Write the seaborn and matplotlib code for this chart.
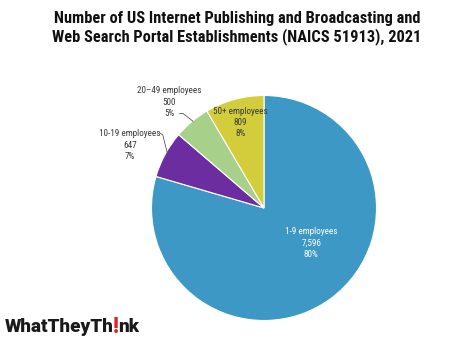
import matplotlib
matplotlib.use("Agg")
import matplotlib.pyplot as plt
import seaborn as sns

sns.set_theme(style="white")
plt.rcParams['font.family'] = ['Roboto Condensed', 'Liberation Sans Narrow', 'Roboto', 'DejaVu Sans']

categories = ["1-9 employees", "10-19 employees", "20–49 employees", "50+ employees"]
counts = [7596, 647, 500, 809]
count_labels = ["7,596", "647", "500", "809"]
pct_labels = ["80%", "7%", "5%", "8%"]
colors = ["#3d98c5", "#6b2d9f", "#a7d08b", "#d3cd3b"]

W, H = 474, 344
fig = plt.figure(figsize=(W / 100, H / 100), dpi=100)
cx, cy, r = 264, 208, 112.5
ax = fig.add_axes([(cx - r) / W, (H - cy - r) / H, 2 * r / W, 2 * r / H])
ax.pie(counts, colors=colors, startangle=90, counterclock=False,
       wedgeprops=dict(edgecolor="white", linewidth=0.8))
ax.set_aspect("equal")
ax.set_xlim(-1, 1)
ax.set_ylim(-1, 1)


def label_text(i):
    return f"{categories[i]}\n{count_labels[i]}\n{pct_labels[i]}"


lab_kw = dict(ha="center", va="center", fontsize=6.6, linespacing=1.35, clip_on=False)
ax.text(0.42, -0.31, label_text(0), color="white", **lab_kw)
ax.text(-0.21, 0.76, label_text(3), color="#3a3a3a", **lab_kw)
ax.text(-1.19, 0.56, label_text(1), color="#3a3a3a", **lab_kw)
ax.text(-0.84, 0.94, label_text(2), color="#3a3a3a", **lab_kw)

# leader lines for the two small outside labels
ax.plot([-0.93, -0.90, -0.86], [0.67, 0.65, 0.49], color="#555555", lw=0.6, clip_on=False)
ax.plot([-0.75, -0.72, -0.63], [0.84, 0.84, 0.77], color="#555555", lw=0.6, clip_on=False)

fig.text(0.5, 1 - 28 / H, "Number of US Internet Publishing and Broadcasting and\n"
         "Web Search Portal Establishments (NAICS 51913), 2021",
         ha="center", va="center", fontsize=11.8, fontweight="bold",
         color="#111111", linespacing=1.2)

# brand mark, pieces placed side by side
fig.canvas.draw()
renderer = fig.canvas.get_renderer()
x = 5 / W
yb = 1 - 327 / H
for part, col, fs in [("WhatTheyTh", "#1a1a1a", 13.6), ("!", "#d9262c", 15.5), ("nk", "#1a1a1a", 13.6)]:
    t = fig.text(x, yb, part, ha="left", va="center", fontsize=fs,
                 fontweight="heavy", color=col, family=["Roboto", "DejaVu Sans"])
    bb = t.get_window_extent(renderer=renderer)
    x += bb.width / W - 0.8 / W

fig.savefig("out.png", dpi=100, facecolor="white")
